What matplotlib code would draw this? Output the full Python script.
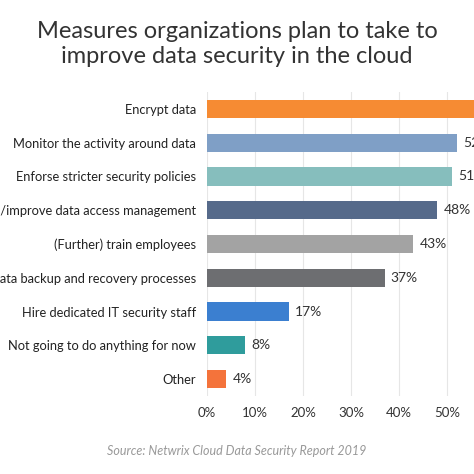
import matplotlib.pyplot as plt

labels = ['Encrypt data', 'Monitor the activity around data', 'Enforse stricter security policies',
          'Implement/improve data access management', '(Further) train employees',
          'Improve data backup and recovery processes', 'Hire dedicated IT security staff',
          'Not going to do anything for now', 'Other']
values = [64, 52, 51, 48, 43, 37, 17, 8, 4]
colors = ['#f68b33', '#7f9fc6', '#86bebd', '#566a8a', '#a3a3a3', '#6d6e71',
          '#3b7fd0', '#2f9c9c', '#f4733b']

plt.rcParams['font.family'] = ['Lato', 'DejaVu Sans']

fig = plt.figure(figsize=(4.74, 4.74), dpi=100)
# axes run past the right edge of the figure, like the cropped original
ax = fig.add_axes([207/474, 1 - 396/474, 336/474, 304/474])
y = list(range(len(labels)))
ax.barh(y, values, color=colors, height=0.54, zorder=2)
for yi, v in zip(y, values):
    ax.text(v + 1.3, yi, f'{v}%', va='center', ha='left', fontsize=10, color='#333333')
ax.set_yticks(y)
ax.set_yticklabels(labels, fontsize=9.3, color='#222222')
ax.set_ylim(len(labels) - 0.5, -0.5)
ax.set_xlim(0, 70)
ax.set_xticks(range(0, 71, 10))
ax.set_xticklabels([f'{t}%' for t in range(0, 71, 10)], fontsize=9.5, color='#333333')
ax.grid(axis='x', color='#e6e6e6', lw=0.8, zorder=0)
for s in ax.spines.values():
    s.set_visible(False)
ax.tick_params(length=0, pad=8)

fig.text(0.5, 1 - 44/474, 'Measures organizations plan to take to\nimprove data security in the cloud',
         ha='center', va='center', fontsize=17, color='#333333', linespacing=1.2)
fig.text(0.5, 1 - 451/474, 'Source: Netwrix Cloud Data Security Report 2019', ha='center', va='center',
         fontsize=9, style='italic', color='#999999')
fig.savefig('out.png', dpi=100)
